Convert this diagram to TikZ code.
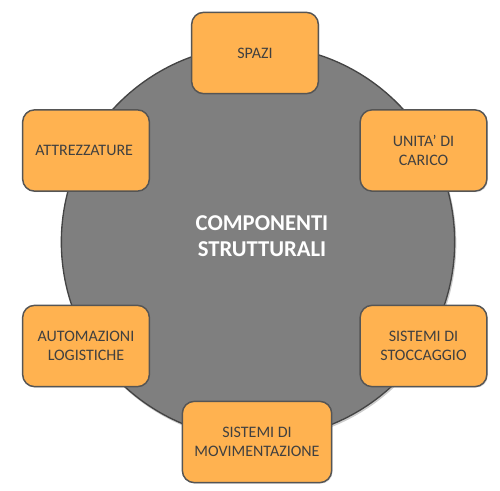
\documentclass[tikz,border=0pt]{standalone}
\usepackage{fontspec}
\setmainfont{Carlito}
\usetikzlibrary{shadows,calc}
\definecolor{arancio}{RGB}{255,178,80}
\definecolor{grigio}{RGB}{127,127,127}
\definecolor{bordo}{RGB}{85,85,85}
\definecolor{testo}{RGB}{64,64,64}
\begin{document}
\begin{tikzpicture}[x=0.75pt, y=-0.75pt, line join=round, line cap=round,
	voce/.style={draw=bordo, line width=1.1pt, fill=arancio, rounded corners=9pt,
		minimum width=95pt, minimum height=61pt, align=center, text=testo,
		font=\fontsize{12}{13.8}\selectfont, inner sep=2pt,
		drop shadow={shadow xshift=0.8pt, shadow yshift=-0.8pt, opacity=0.25}}]
	\useasboundingbox (0,0) rectangle (500,491);
	\coordinate (O) at (258,242);
	
	% Cerchio centrale
	\fill[black, opacity=0.2] ($(O)+(1,1.5)$) circle (148pt);
	\filldraw[fill=grigio, draw=bordo!80!black, line width=1pt] (O) circle (147.5pt);
	\node[text=white, font=\fontsize{17}{19}\selectfont\bfseries, align=center]
		(centro) at (262,236) {COMPONENTI\\STRUTTURALI};
	
	% Le sei voci intorno
	\foreach \n/\x/\y/\lab in {
		spazi/255/53/{SPAZI},
		unita/423.5/150.5/{UNITA’ DI\\CARICO},
		stoccaggio/423.5/346/{SISTEMI DI\\STOCCAGGIO},
		automazioni/86/346/{AUTOMAZIONI\\LOGISTICHE},
		attrezzature/86/150.5/{ATTREZZATURE}
	} \node[voce] (\n) at (\x,\y) {\lab};
	\node[voce, minimum width=112pt] (movimentazione) at (257,442) {SISTEMI DI\\MOVIMENTAZIONE};
\end{tikzpicture}
\end{document}
